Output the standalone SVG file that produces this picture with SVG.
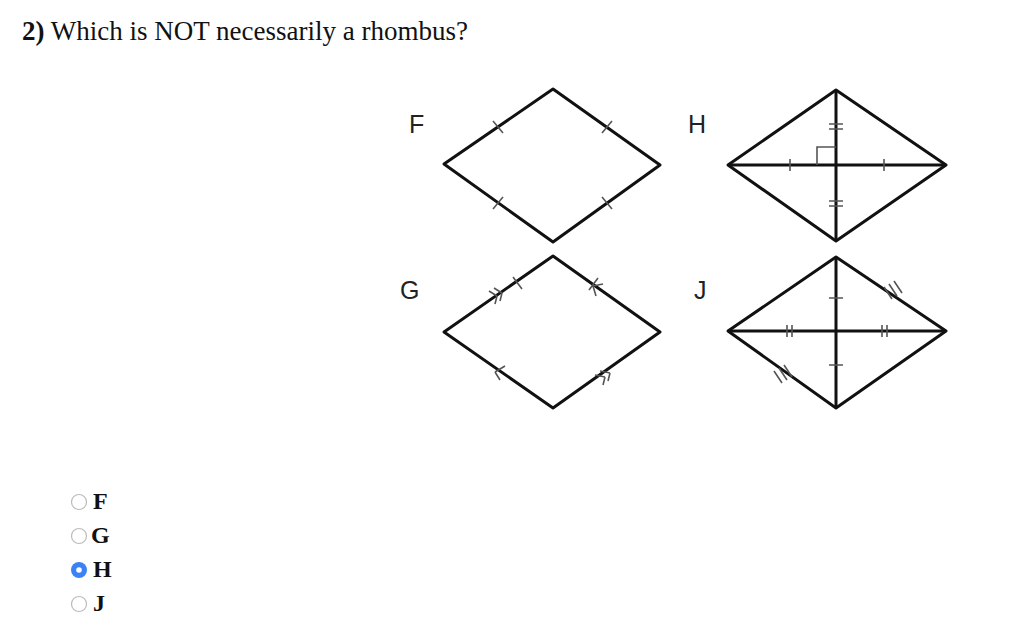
<svg xmlns="http://www.w3.org/2000/svg" width="1024" height="625" viewBox="0 0 1024 625">
<style>
.s{fill:none;stroke:#111;stroke-width:3;stroke-linejoin:round}
.t{fill:none;stroke:#555;stroke-width:1.6}
.lab{font-family:"Liberation Sans",Arial,sans-serif;font-size:25px;fill:#222}
.q{font-family:"Liberation Serif","Times New Roman",serif;font-size:27px;fill:#111}
.r{font-family:"Liberation Serif","Times New Roman",serif;font-size:24px;font-weight:bold;fill:#111}
.rad{fill:#fff;stroke:#bbb;stroke-width:1.2}
</style>
<rect width="1024" height="625" fill="#fff"/>
<text class="q" x="22" y="40"><tspan font-weight="bold">2)</tspan> Which is NOT necessarily a rhombus?</text>
<g id="F">
<polygon class="s" points="444,164 553,89 660,165 553,242"/>
<path class="t" d="M493,121 L503,133 M612,121 L602,133 M493,209 L503,197 M612,209 L602,197"/>
<text class="lab" x="409" y="133">F</text>
</g>
<g id="G">
<polygon class="s" points="444,332 553,256 660,332 553,408"/>
<path class="t" d="M513,277 L522,289 M598,278 L589,290 M497,296 L489,291 M497,296 L495,304 M502,293 L494,288 M502,293 L500,301 M593,286 L603,284 M593,286 L596,296 M495,372 L505,366 M495,372 L500,380 M610,373 L600,371 M610,373 L608,381 M605,377 L595,375 M605,377 L603,385"/>
<text class="lab" x="400" y="299">G</text>
</g>
<g id="H">
<polygon class="s" points="728,165 836,90 946,165 836,241"/>
<path class="s" d="M728,165 H946 M836,90 V241"/>
<path class="t" d="M817,165 V147 H836 M790,159 V171 M884,159 V171 M829,124 H843 M829,129 H843 M829,201 H843 M829,206 H843"/>
<text class="lab" x="688" y="133">H</text>
</g>
<g id="J">
<polygon class="s" points="728,331 836,257 946,331 836,408"/>
<path class="s" d="M728,331 H946 M836,257 V408"/>
<path class="t" d="M829,298 H843 M829,365 H843 M787,325 V337 M792,325 V337 M882,325 V337 M887,325 V337 M884,287 L892,299 M889,284 L897,296 M894,281 L902,293 M774,371 L782,383 M779,368 L787,380 M784,365 L792,377"/>
<text class="lab" x="694" y="299">J</text>
</g>
<g id="choices">
<circle class="rad" cx="79" cy="502" r="7.5"/>
<circle class="rad" cx="79" cy="536" r="7.5"/>
<circle cx="79" cy="570" r="8" fill="#3b82f6"/>
<circle cx="79" cy="570" r="2.8" fill="#fff"/>
<circle class="rad" cx="79" cy="604" r="7.5"/>
<text class="r" x="93" y="509">F</text>
<text class="r" x="91" y="543">G</text>
<text class="r" x="93" y="577">H</text>
<text class="r" x="93" y="611">J</text>
</g>
</svg>
